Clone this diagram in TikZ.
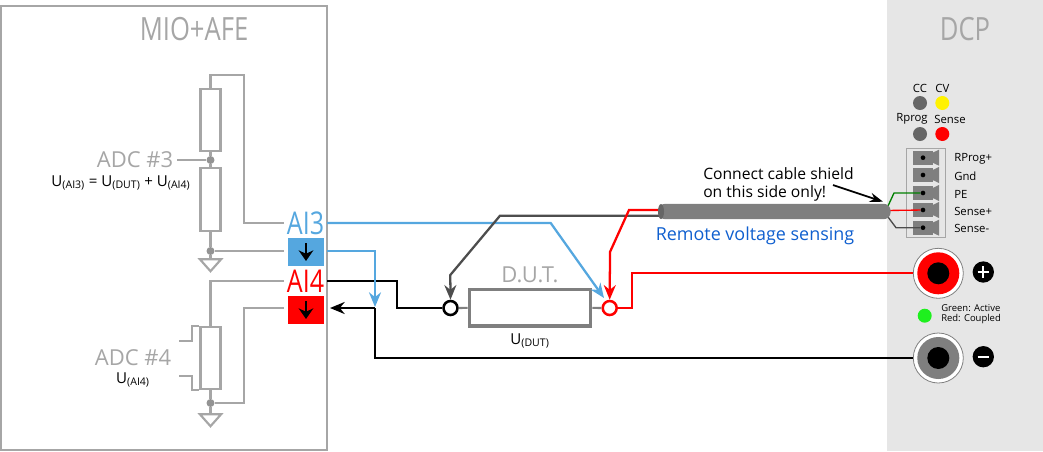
\documentclass[tikz,border=0pt]{standalone}
\usepackage{fontspec}
\usepackage{tikz}
\usetikzlibrary{arrows.meta,shapes.geometric}
\setmainfont{Open Sans}
\newfontfamily\slimfont[FakeStretch=0.8]{Open Sans}
\definecolor{wiregray}{HTML}{A6A6A6}
\definecolor{aiblue}{HTML}{55A7DF}
\definecolor{darkwire}{HTML}{4D4D4D}
\definecolor{sensegreen}{HTML}{008000}
\definecolor{panelgray}{HTML}{E6E6E6}
\definecolor{midgray}{HTML}{7F7F7F}
\definecolor{ledgray}{HTML}{666666}
\definecolor{remoteblue}{HTML}{0F5FCF}
\definecolor{ledgreen}{HTML}{1EF01E}
\tikzset{
  wire/.style={line width=1.6pt,wiregray},
  signal/.style={line width=1.7pt},
  tipped/.style={-{Stealth[length=11pt,width=9pt]}},
  boxtip/.style={line width=1.6pt,-{Stealth[length=8pt,width=11pt]}},
  resistor/.style={draw=wiregray,line width=1.6pt,fill=white,minimum width=15pt,minimum height=47pt,inner sep=0pt},
  joint/.style={circle,fill=gray!85,minimum size=6pt,inner sep=0pt},
  earth/.style={isosceles triangle,shape border rotate=-90,isosceles triangle stretches,draw=wiregray,line width=1.6pt,fill=white,minimum width=16pt,minimum height=9pt,inner sep=0pt},
  title/.style={wiregray,font=\slimfont\fontsize{24}{28}\selectfont},
  adc/.style={wiregray,font=\fontsize{16.5}{20}\selectfont},
  port/.style={font=\slimfont\fontsize{23.5}{28}\selectfont},
  portbox/.style={minimum width=27pt,minimum height=21pt,inner sep=0pt},
  small/.style={font=\fontsize{11.3}{13}\selectfont},
  tiny/.style={font=\fontsize{8.5}{10}\selectfont,inner sep=0pt},
  tiniest/.style={font=\fontsize{7.1}{8.5}\selectfont,inner sep=0pt},
  ring/.style={circle,draw,line width=1.9pt,fill=white,minimum size=10.5pt,inner sep=0pt},
  led/.style={circle,minimum size=10.5pt,inner sep=0pt}
}
\begin{document}
\begin{tikzpicture}[x=0.75pt,y=-0.75pt]
\useasboundingbox (0,0) rectangle (1043,451);
\fill [panelgray] (887,0) rectangle (1043,451);
\draw [wire] (0.5,6) rectangle (327,450);
\node [title] (mio) at (194,29) {MIO+AFE};
\node [title] (dcp) at (965,29) {DCP};

\node [resistor] (rtop) at (210.5,120) {};
\node [resistor] (rmid) at (210.5,199.5) {};
\node [resistor] (rlow) at (210.5,358) {};
\node [joint] (jmid) at (210.5,160) {};
\node [joint] (jgnd) at (210.5,251) {};
\node [joint] (jlow) at (210.5,403) {};
\node [earth,anchor=apex] (gndtop) at (210.5,274) {};
\node [earth,anchor=apex] (gndlow) at (210.5,429) {};
\node [adc] (adcthree) at (135,160) {ADC \#3};
\node [adc] (adcfour) at (133,358) {ADC \#4};
\node [small] (uthree) at (121,183) {U\textsubscript{(AI3)} = U\textsubscript{(DUT)} + U\textsubscript{(AI4)}};
\node [small] (ufour) at (133,380) {U\textsubscript{(AI4)}};

\node [port,aiblue] (aithree) at (305.5,223) {AI3};
\node [port,red] (aifour) at (305.5,281) {AI4};
\node [portbox,fill=aiblue] (boxblue) at (306,252) {};
\node [portbox,fill=red] (boxred) at (306,309.5) {};
\coordinate (wthree) at (284,223);
\coordinate (wgnd) at (284,251);
\coordinate (wfour) at (284,281);
\coordinate (wret) at (284,308);
\draw [wire] (rtop.north) -- (210.5,74.7) -- (244,74.7) |- (wthree);
\draw [wire] (rtop.south) -- (jmid) -- (rmid.north);
\draw [wire] (177,160) -- (jmid);
\draw [wire] (rmid.south) -- (jgnd) -- (gndtop.north);
\draw [wire] (jgnd) -- (wgnd);
\draw [wire] (wfour) -| (rlow.north);
\draw [wire] (rlow.south) -- (jlow) -- (gndlow.north);
\draw [wire] (jlow) -| (244,308) -- (wret);
\draw [wire] (179,341) -- (191.7,341) |- (rlow.north west);
\draw [wire] (179,376) -- (191.7,376) |- (rlow.south west);
\draw [boxtip] (306,243) -- (306,261);
\draw [boxtip] (306,301) -- (306,319);

\node [draw=midgray,line width=2.5pt,minimum width=91pt,minimum height=27.5pt,inner sep=0pt] (dut) at (530,307.5) {};
\node [wiregray,font=\fontsize{16.5}{20}\selectfont] (duttext) at (530,275) {D.U.T.};
\node [small] (udut) at (530,341) {U\textsubscript{(DUT)}};
\node [ring,draw=black] (nodeleft) at (450.5,308) {};
\node [ring,draw=red] (noderight) at (609.7,308) {};
\draw [wire,midgray] (nodeleft) -- (dut);
\draw [wire,midgray] (dut) -- (noderight);

\foreach \n/\y/\t in {rprog/157.7/RProg+,gnd/175/Gnd,pe/193/PE,splus/210/Sense+,sminus/227.7/Sense-}
{       \fill [midgray] (913,\y-7) rectangle (932.7,\y+7);
        \fill [midgray] (932.7,\y-5) -- (939,\y-8) -- (939,\y+8) -- (932.7,\y+5) -- cycle;
        \node [circle,fill=black,minimum size=3.5pt,inner sep=0pt] (pin\n) at (923,\y) {};
        \node [tiny,anchor=west] (lab\n) at (954,\y+1) {\t};
}
\draw [line width=0.75pt,gray!70] (906,148) rectangle (945.7,237);

\node [led,fill=ledgray] (ledcc) at (920,103) {};
\node [led,fill=yellow] (ledcv) at (942.3,103) {};
\node [led,fill=ledgray] (ledrprog) at (920,134) {};
\node [led,fill=red] (ledsense) at (942.3,134) {};
\node [tiny] (labcc) at (920,88) {CC};
\node [tiny] (labcv) at (942.3,88) {CV};
\node [tiny] (labrprog) at (912,118.5) {Rprog};
\node [tiny] (labsense) at (950,119) {Sense};

\node [circle,draw=gray,line width=0.6pt,fill=white,minimum size=37.5pt,inner sep=0pt] (plusout) at (938.3,273.3) {};
\node [circle,fill=red,minimum size=31.5pt,inner sep=0pt] (plusring) at (938.3,273.3) {};
\node [circle,fill=black,minimum size=16.5pt,inner sep=0pt] (plushole) at (938.3,273.3) {};
\node [circle,draw=gray,line width=0.6pt,fill=white,minimum size=37.5pt,inner sep=0pt] (minusout) at (938.3,358) {};
\node [circle,fill=midgray,minimum size=31.5pt,inner sep=0pt] (minusring) at (938.3,358) {};
\node [circle,fill=black,minimum size=16.5pt,inner sep=0pt] (minushole) at (938.3,358) {};
\node [circle,fill=black,minimum size=16pt,inner sep=0pt] (plusbadge) at (983.3,272) {};
\node [circle,fill=black,minimum size=16pt,inner sep=0pt] (minusbadge) at (983.3,356.7) {};
\draw [white,line width=1.7pt] (977.5,272) -- (989,272) (983.3,266.3) -- (983.3,277.7);
\draw [white,line width=1.7pt] (977.5,356.7) -- (989,356.7);
\node [led,fill=ledgreen] (ledactive) at (924.7,315.7) {};
\node [tiniest,anchor=west] (labgreen) at (941,308) {Green: Active};
\node [tiniest,anchor=west] (labred) at (941,319) {Red: Coupled};

\coordinate (cablered) at (664,210);
\coordinate (cablegray) at (664,215.7);
\draw [signal,red] (plusout) -- (632,273.3) |- (noderight);
\draw [signal,tipped] (375,308) -- (330,308);
\draw [signal] (375,308) |- (minusout);
\draw [signal] (327,281) -- (397,281) |- (nodeleft);
\draw [signal,aiblue,tipped] (327,251) -- (375,251) -- (375,307);
\draw [signal,aiblue,tipped] (327,223) -- (550.7,223) -- (604,298);
\draw [signal,darkwire,tipped] (cablegray) -- (500,215.7) -- (450.3,275) -- (nodeleft.north);
\draw [signal,red,tipped] (cablered) -- (629,210) -- (610,252) -- (noderight.north);

\draw [line width=1pt,sensegreen] (888,206) -- (894,193) -- (pinpe);
\draw [line width=1pt,red] (886,210.5) -- (pinsplus);
\draw [line width=1pt,darkwire] (888,217) -- (896,227.7) -- (pinsminus);
\node [rectangle,rounded corners=5pt,fill=midgray,minimum width=174pt,minimum height=11.5pt,inner sep=0pt] (cable) at (774.5,211.5) {};
\fill [ledgray] (661,211.5) ellipse [x radius=3,y radius=7.5];

\node [font=\fontsize{11.75}{13.5}\selectfont,align=left,anchor=north west,inner sep=0pt] (shield) at (703,167) {Connect cable shield\\on this side only!};
\coordinate (shieldend) at (883,201.7);
\draw [line width=1.3pt,-{Stealth[length=10pt,width=7pt]}] (833,185) -- (shieldend);
\node [remoteblue,font=\fontsize{13.45}{16}\selectfont] (remote) at (755,236) {Remote voltage sensing};
\end{tikzpicture}
\end{document}
